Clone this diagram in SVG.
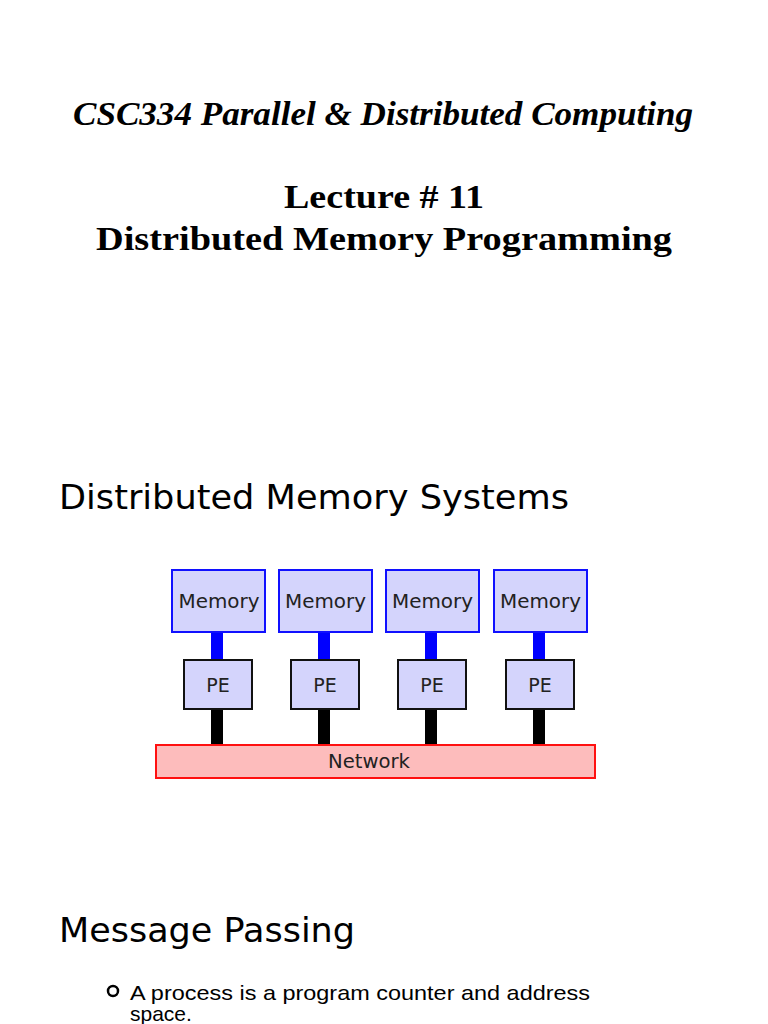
<svg xmlns="http://www.w3.org/2000/svg" width="768" height="1024" viewBox="0 0 768 1024">
<style>
.t{font-family:"Liberation Serif",serif;font-weight:bold;font-size:33px;text-anchor:middle}
.h{font-family:"DejaVu Sans",sans-serif;font-size:33px}
.mem{fill:#d4d4fc;stroke:#1010ff;stroke-width:2}
.pe{fill:#d4d4fc;stroke:#111;stroke-width:2}
.l{font-family:"DejaVu Sans",sans-serif;font-size:19px;text-anchor:middle;fill:#222}
.b{font-family:"Liberation Sans",sans-serif;font-size:21px}
</style>
<rect width="768" height="1024" fill="#fff"/>
<text x="383" y="125" class="t" font-style="italic" textLength="620" lengthAdjust="spacingAndGlyphs">CSC334 Parallel &amp; Distributed Computing</text>
<text x="384" y="208" class="t" textLength="200" lengthAdjust="spacingAndGlyphs">Lecture # 11</text>
<text x="384" y="250" class="t" textLength="576" lengthAdjust="spacingAndGlyphs">Distributed Memory Programming</text>
<text x="59" y="509" class="h" textLength="510" lengthAdjust="spacingAndGlyphs">Distributed Memory Systems</text>
<g id="connectors">
<rect x="211" y="632" width="12" height="28" fill="#0000ff"/>
<rect x="318" y="632" width="12" height="28" fill="#0000ff"/>
<rect x="425" y="632" width="12" height="28" fill="#0000ff"/>
<rect x="533" y="632" width="12" height="28" fill="#0000ff"/>
<rect x="211" y="709" width="12" height="36" fill="#000"/>
<rect x="318" y="709" width="12" height="36" fill="#000"/>
<rect x="425" y="709" width="12" height="36" fill="#000"/>
<rect x="533" y="709" width="12" height="36" fill="#000"/>
</g>
<g id="mem1"><rect class="mem" x="172" y="570" width="93" height="62"/><text class="l" x="219" y="608" textLength="81" lengthAdjust="spacingAndGlyphs">Memory</text></g>
<g id="mem2"><rect class="mem" x="279" y="570" width="93" height="62"/><text class="l" x="325.5" y="608" textLength="81" lengthAdjust="spacingAndGlyphs">Memory</text></g>
<g id="mem3"><rect class="mem" x="386" y="570" width="93" height="62"/><text class="l" x="432.5" y="608" textLength="81" lengthAdjust="spacingAndGlyphs">Memory</text></g>
<g id="mem4"><rect class="mem" x="494" y="570" width="93" height="62"/><text class="l" x="540.5" y="608" textLength="81" lengthAdjust="spacingAndGlyphs">Memory</text></g>
<g id="pe1"><rect class="pe" x="184" y="660" width="68" height="49"/><text class="l" x="218" y="692">PE</text></g>
<g id="pe2"><rect class="pe" x="291" y="660" width="68" height="49"/><text class="l" x="325" y="692">PE</text></g>
<g id="pe3"><rect class="pe" x="398" y="660" width="68" height="49"/><text class="l" x="432" y="692">PE</text></g>
<g id="pe4"><rect class="pe" x="506" y="660" width="68" height="49"/><text class="l" x="540" y="692">PE</text></g>
<g id="network"><rect x="156" y="745" width="439" height="33" fill="#fdbcbc" stroke="#ff1010" stroke-width="2"/><text class="l" x="369" y="768" textLength="82" lengthAdjust="spacingAndGlyphs">Network</text></g>
<text x="59" y="942" class="h" textLength="296" lengthAdjust="spacingAndGlyphs">Message Passing</text>
<circle cx="113" cy="991" r="5" fill="none" stroke="#000" stroke-width="2.5"/>
<text x="130" y="1000" class="b" textLength="460" lengthAdjust="spacingAndGlyphs">A process is a program counter and address</text>
<text x="130" y="1021" class="b">space.</text>
</svg>
